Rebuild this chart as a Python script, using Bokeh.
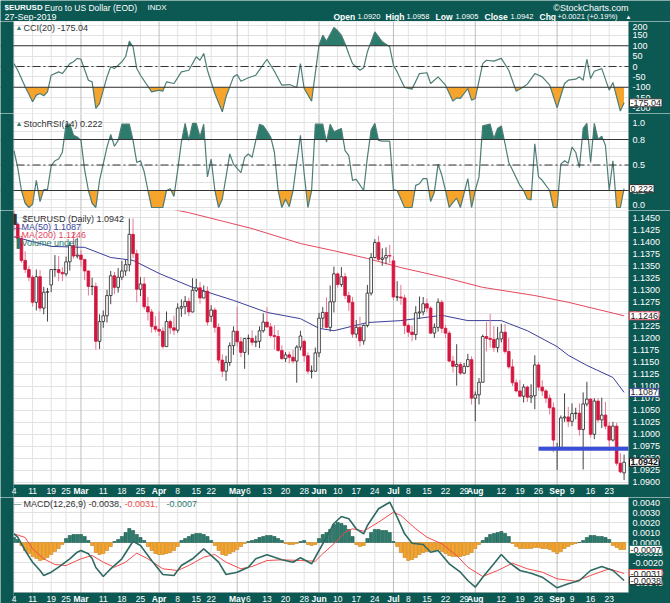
import numpy as np
import pandas as pd
from bokeh.plotting import figure
from bokeh.layouts import column
from bokeh.models import (Range1d, FixedTicker, Span, Label, LabelSet, BoxAnnotation,
                          ColumnDataSource)
from bokeh.core.properties import value
from bokeh.embed import file_html
from bokeh.resources import INLINE

# ---------------- data ----------------
holidays = ["2019-02-18", "2019-04-19", "2019-05-27", "2019-07-04", "2019-09-02"]
dates = [d for d in pd.bdate_range("2019-02-04", "2019-09-27") if d.strftime("%Y-%m-%d") not in holidays]

open_ = [1.1457, 1.1436, 1.1406, 1.1361, 1.1342,
         1.1326, 1.1274, 1.1327, 1.1262, 1.1295,
         1.1310, 1.1342, 1.1342, 1.1336,
         1.1333, 1.1358, 1.1392, 1.1370, 1.1372,
         1.1363, 1.1339, 1.1307, 1.1307, 1.1193,
         1.1234, 1.1246, 1.1288, 1.1329, 1.1305,
         1.1326, 1.1339, 1.1352, 1.1415, 1.1375,
         1.1301, 1.1312, 1.1265, 1.1254, 1.1224,
         1.1218, 1.1214, 1.1182, 1.1234, 1.1221,
         1.1216, 1.1262, 1.1265, 1.1276, 1.1254,
         1.1299, 1.1304, 1.1283, 1.1297,
         1.1245, 1.1258, 1.1222, 1.1154, 1.1131,
         1.1149, 1.1184, 1.1214, 1.1192, 1.1170,
         1.1199, 1.1199, 1.1191, 1.1193, 1.1215,
         1.1233, 1.1223, 1.1205, 1.1203, 1.1174,
         1.1157, 1.1165, 1.1160, 1.1152, 1.1181,
         1.1193, 1.1163, 1.1131, 1.1131,
         1.1169, 1.1241, 1.1253, 1.1222, 1.1275,
         1.1333, 1.1311, 1.1327, 1.1288, 1.1274,
         1.1208, 1.1222, 1.1194, 1.1226, 1.1293,
         1.1367, 1.1398, 1.1363, 1.1366, 1.1371,
         1.1360, 1.1285, 1.1285, 1.1283,
         1.1226, 1.1212, 1.1207, 1.1252, 1.1254,
         1.1271, 1.1262, 1.1210, 1.1222, 1.1274,
         1.1220, 1.1210, 1.1152, 1.1141, 1.1145,
         1.1127, 1.1141, 1.1155, 1.1075, 1.1082,
         1.1108, 1.1203, 1.1199, 1.1197, 1.1180,
         1.1198, 1.1212, 1.1172, 1.1140, 1.1107,
         1.1090, 1.1079, 1.1098, 1.1077, 1.1080,
         1.1144, 1.1098, 1.1090, 1.1075, 1.1055,
         1.0970, 1.0973, 1.1034, 1.1036,
         1.1027, 1.1043, 1.1044, 1.1010, 1.1063,
         1.1073, 1.1000, 1.1069, 1.1030, 1.1040,
         1.1017, 1.0988, 1.1017, 1.0940, 1.0920]
high = [1.1465, 1.1440, 1.1412, 1.1380, 1.1349,
        1.1330, 1.1342, 1.1341, 1.1306, 1.1304,
        1.1340, 1.1372, 1.1370, 1.1347,
        1.1369, 1.1400, 1.1420, 1.1408, 1.1382,
        1.1363, 1.1340, 1.1325, 1.1315, 1.1249,
        1.1257, 1.1300, 1.1339, 1.1337, 1.1345,
        1.1360, 1.1362, 1.1448, 1.1448, 1.1383,
        1.1326, 1.1326, 1.1285, 1.1260, 1.1245,
        1.1255, 1.1222, 1.1255, 1.1238, 1.1246,
        1.1272, 1.1280, 1.1287, 1.1284, 1.1324,
        1.1323, 1.1316, 1.1309, 1.1307,
        1.1268, 1.1263, 1.1230, 1.1166, 1.1163,
        1.1191, 1.1224, 1.1265, 1.1202, 1.1200,
        1.1207, 1.1216, 1.1205, 1.1224, 1.1251,
        1.1264, 1.1231, 1.1226, 1.1216, 1.1185,
        1.1171, 1.1172, 1.1175, 1.1185, 1.1215,
        1.1197, 1.1170, 1.1143, 1.1180,
        1.1252, 1.1264, 1.1284, 1.1309, 1.1348,
        1.1336, 1.1347, 1.1335, 1.1296, 1.1285,
        1.1237, 1.1244, 1.1228, 1.1310, 1.1376,
        1.1405, 1.1412, 1.1386, 1.1388, 1.1393,
        1.1370, 1.1318, 1.1310, 1.1290,
        1.1230, 1.1225, 1.1266, 1.1286, 1.1285,
        1.1282, 1.1266, 1.1230, 1.1282, 1.1279,
        1.1227, 1.1215, 1.1163, 1.1187, 1.1150,
        1.1148, 1.1167, 1.1162, 1.1089, 1.1117,
        1.1207, 1.1233, 1.1250, 1.1225, 1.1223,
        1.1229, 1.1229, 1.1200, 1.1156, 1.1114,
        1.1113, 1.1104, 1.1101, 1.1104, 1.1164,
        1.1150, 1.1112, 1.1094, 1.1083, 1.1066,
        1.0982, 1.1039, 1.1085, 1.1057,
        1.1064, 1.1055, 1.1064, 1.1087, 1.1109,
        1.1075, 1.1075, 1.1075, 1.1076, 1.1067,
        1.1025, 1.1026, 1.1024, 1.0961, 1.0958]
low = [1.1422, 1.1397, 1.1356, 1.1335, 1.1318,
       1.1265, 1.1257, 1.1255, 1.1249, 1.1234,
       1.1295, 1.1327, 1.1318, 1.1318,
       1.1328, 1.1340, 1.1365, 1.1365, 1.1348,
       1.1320, 1.1288, 1.1289, 1.1176, 1.1177,
       1.1221, 1.1232, 1.1270, 1.1291, 1.1294,
       1.1320, 1.1329, 1.1338, 1.1366, 1.1274,
       1.1287, 1.1259, 1.1236, 1.1211, 1.1212,
       1.1204, 1.1178, 1.1183, 1.1208, 1.1206,
       1.1211, 1.1244, 1.1249, 1.1245, 1.1253,
       1.1295, 1.1271, 1.1282, 1.1226,
       1.1233, 1.1211, 1.1147, 1.1119, 1.1111,
       1.1142, 1.1165, 1.1182, 1.1160, 1.1136,
       1.1165, 1.1184, 1.1181, 1.1179, 1.1211,
       1.1221, 1.1201, 1.1176, 1.1171, 1.1155,
       1.1150, 1.1147, 1.1147, 1.1107, 1.1174,
       1.1150, 1.1125, 1.1116, 1.1131,
       1.1160, 1.1221, 1.1220, 1.1213, 1.1253,
       1.1304, 1.1306, 1.1281, 1.1256, 1.1200,
       1.1200, 1.1182, 1.1186, 1.1222, 1.1288,
       1.1365, 1.1360, 1.1350, 1.1353, 1.1355,
       1.1279, 1.1277, 1.1269, 1.1208,
       1.1202, 1.1193, 1.1196, 1.1240, 1.1247,
       1.1253, 1.1208, 1.1200, 1.1213, 1.1210,
       1.1200, 1.1150, 1.1128, 1.1101, 1.1123,
       1.1125, 1.1139, 1.1062, 1.1027, 1.1062,
       1.1108, 1.1172, 1.1180, 1.1171, 1.1170,
       1.1191, 1.1167, 1.1136, 1.1100, 1.1087,
       1.1077, 1.1066, 1.1067, 1.1065, 1.1052,
       1.1090, 1.1080, 1.1065, 1.1041, 1.0963,
       1.0926, 1.0970, 1.1026, 1.1015,
       1.1017, 1.1031, 1.0997, 1.0927, 1.1058,
       1.0993, 1.0990, 1.1025, 1.1013, 1.1010,
       1.0966, 1.0985, 1.0935, 1.0919, 1.0905]
close = [1.1436, 1.1406, 1.1361, 1.1342, 1.1326,
         1.1274, 1.1327, 1.1262, 1.1295, 1.1296,
         1.1342, 1.1342, 1.1336, 1.1333,
         1.1358, 1.1392, 1.1370, 1.1372, 1.1363,
         1.1339, 1.1307, 1.1307, 1.1193, 1.1234,
         1.1246, 1.1288, 1.1329, 1.1305, 1.1326,
         1.1339, 1.1352, 1.1415, 1.1375, 1.1301,
         1.1312, 1.1265, 1.1254, 1.1224, 1.1218,
         1.1214, 1.1182, 1.1234, 1.1221, 1.1216,
         1.1262, 1.1265, 1.1276, 1.1254, 1.1299,
         1.1304, 1.1283, 1.1297, 1.1233,
         1.1258, 1.1222, 1.1154, 1.1131, 1.1149,
         1.1184, 1.1214, 1.1192, 1.1170, 1.1199,
         1.1199, 1.1191, 1.1193, 1.1215, 1.1233,
         1.1223, 1.1205, 1.1203, 1.1174, 1.1157,
         1.1165, 1.1160, 1.1152, 1.1181, 1.1204,
         1.1163, 1.1131, 1.1131, 1.1169,
         1.1241, 1.1253, 1.1222, 1.1275, 1.1333,
         1.1311, 1.1327, 1.1288, 1.1274, 1.1208,
         1.1222, 1.1194, 1.1226, 1.1293, 1.1367,
         1.1398, 1.1363, 1.1366, 1.1371, 1.1370,
         1.1285, 1.1285, 1.1283, 1.1226,
         1.1212, 1.1207, 1.1252, 1.1254, 1.1271,
         1.1262, 1.1210, 1.1222, 1.1274, 1.1220,
         1.1210, 1.1152, 1.1141, 1.1145, 1.1127,
         1.1141, 1.1155, 1.1075, 1.1082, 1.1108,
         1.1203, 1.1199, 1.1197, 1.1180, 1.1198,
         1.1212, 1.1172, 1.1140, 1.1107, 1.1090,
         1.1079, 1.1098, 1.1077, 1.1080, 1.1144,
         1.1098, 1.1090, 1.1075, 1.1055, 1.0988,
         1.0973, 1.1034, 1.1036, 1.1027,
         1.1043, 1.1044, 1.1010, 1.1063, 1.1073,
         1.1000, 1.1069, 1.1030, 1.1040, 1.1017,
         1.0988, 1.1017, 1.0940, 1.0922, 1.0942]

ma50_pts = [(0, 1.1410), (5, 1.1400), (10, 1.1390), (19, 1.1388), (26, 1.1367), (32, 1.1361),
            (39, 1.1334), (48, 1.1305), (59, 1.1278), (68, 1.1253), (77, 1.1240), (82, 1.1220),
            (86, 1.1215), (95, 1.1232), (104, 1.1236), (115, 1.1247), (122, 1.1236), (131, 1.1236),
            (138, 1.1215), (146, 1.1182), (149, 1.1164), (154, 1.1143), (161, 1.1118), (164, 1.1087)]
ma200_pts = [(0, 1.1545), (25, 1.1495), (47, 1.1460), (64, 1.1427), (77, 1.1396), (86, 1.1381),
             (95, 1.1365), (104, 1.1346), (116, 1.1325), (126, 1.1305), (140, 1.1288), (149, 1.1274),
             (164, 1.1246)]
support_level = 1.0970
support_from = "2019-08-26"

cci_pts = [(0, 14), (1, -18), (3, -98), (5, -170), (6, -138), (7, -130), (8, -141), (9, -122), (10, -42), (12, -26),
           (13, -34), (15, 14), (16, 23), (17, 39), (18, 35), (20, -66), (21, -74), (22, -202), (23, -178), (25, -50),
           (26, -1), (27, -10), (29, 23), (30, 47), (31, 122), (32, 95), (33, -10), (34, -42), (37, -122), (39, -114),
           (40, -119), (41, -74), (43, -82), (45, -26), (47, -18), (49, 47), (50, 30), (51, 63), (52, -18), (54, -130),
           (56, -218), (57, -146), (59, -50), (60, -39), (61, -71), (63, -54), (65, -42), (68, 35), (70, -23), (72, -90),
           (74, -87), (76, -101), (77, 14), (78, -106), (80, -167), (82, 103), (83, 151), (84, 122), (86, 188), (87, 172),
           (88, 151), (89, 110), (90, 60), (91, 14), (93, -18), (94, -6), (95, 71), (97, 167), (99, 119), (101, 95),
           (102, 6), (103, -26), (105, -101), (107, -109), (109, -34), (111, -30), (112, -82), (114, -50), (116, -90), (118, -167),
           (119, -151), (120, -154), (122, -106), (123, -162), (124, -154), (126, 14), (127, 30), (129, 26), (131, 39), (133, -18),
           (135, -119), (137, -98), (138, -85), (140, -34), (142, -50), (144, -90), (146, -199), (148, -82), (149, -66), (151, -61),
           (152, -50), (153, -66), (154, 35), (155, -58), (156, -23), (158, -10), (160, -114), (161, -77), (163, -215), (164, -175.04)]

stoch_pts = [(0, .67), (1, .47), (2, .20), (3, .05), (4, .00), (5, .04), (6, .32), (7, .07), (8, .21), (9, .21),
             (10, .49), (11, .55), (12, .57), (13, .65), (14, .98), (15, .98), (16, .85), (17, .83), (18, .79), (19, .44),
             (20, .20), (21, .05), (22, .00), (23, .32), (25, .71), (26, .86), (27, .72), (28, .79), (29, .98), (31, .98),
             (32, .79), (33, .53), (34, .55), (35, .42), (36, .20), (37, .00), (40, .00), (41, .20), (42, .22), (43, .13),
             (44, .44), (45, .77), (46, .99), (47, .79), (48, .99), (49, .99), (50, .83), (51, .98), (52, .36), (53, .57),
             (54, .20), (55, .00), (56, .10), (57, .36), (58, .63), (59, .51), (61, .41), (62, .59), (63, .63), (64, .59),
             (65, .79), (66, .98), (67, .96), (68, .90), (69, .83), (70, .65), (71, .20), (72, .00), (73, .10), (74, .01),
             (75, .20), (77, .85), (78, .40), (79, .00), (80, .20), (81, .98), (83, .98), (84, .77), (85, .98), (86, .89),
             (88, .93), (89, .67), (90, .61), (91, .32), (92, .33), (94, .20), (95, .59), (96, .91), (97, .99), (98, .79),
             (99, .78), (100, .78), (101, .78), (102, .21), (103, .20), (105, .00), (107, .00), (108, .26), (109, .28), (110, .34),
             (111, .34), (112, .07), (113, .18), (114, .51), (115, .38), (116, .20), (117, .00), (118, .06), (119, .11), (120, .00),
             (122, .34), (123, .00), (124, .20), (125, .36), (126, .96), (128, .98), (129, .81), (130, .93), (131, .96), (132, .75),
             (133, .53), (134, .44), (136, .26), (137, .20), (138, .10), (139, .09), (140, .75), (141, .36), (142, .32), (144, .20),
             (145, .00), (146, .00), (147, .51), (148, .55), (149, .52), (150, .71), (151, .65), (152, .47), (153, .93), (154, .99),
             (155, .53), (156, .99), (157, .80), (158, .84), (159, .73), (160, .20), (161, .55), (162, .00), (163, .00), (164, .222)]

macd_pts = [(0, .00087), (1, .00053), (3, -.0008), (5, -.00197), (7, -.0028), (8, -.0033), (10, -.00297), (12, -.00247),
            (15, -.00163), (17, -.00097), (18, -.0008), (20, -.00113), (21, -.0016), (22, -.0025), (24, -.0034), (26, -.00263),
            (29, -.00163), (32, .00013), (34, -.0003), (37, -.0018), (40, -.0032), (43, -.0033), (45, -.0023), (48, -.00163),
            (51, -.00063), (52, -.00097), (55, -.00197), (57, -.0032), (60, -.00297), (63, -.00247), (65, -.00163), (68, -.00123),
            (70, -.00147), (72, -.00173), (75, -.00197), (77, -.00153), (80, -.00213), (82, -.0008), (84, .00053), (86, .0019),
            (88, .0026), (90, .00237), (92, .00137), (94, .00087), (95, .0017), (98, .00337), (101, .00403), (103, .00253),
            (105, .00087), (107, -.00007), (110, -.0002), (112, -.00097), (114, -.0008), (117, -.00213), (120, -.00297), (122, -.0038),
            (124, -.00447), (126, -.00347), (129, -.00213), (131, -.0012), (133, -.00197), (136, -.0028), (139, -.00307), (142, -.00347),
            (146, -.00453), (149, -.00413), (152, -.0038), (155, -.0028), (158, -.0024), (161, -.0028), (164, -.0038)]
signal_pts = [(0, .00087), (3, .0005), (5, -.00063), (8, -.00163), (11, -.0022), (14, -.0023), (18, -.00163), (21, -.0013),
              (24, -.00197), (27, -.00247), (30, -.00197), (33, -.00107), (36, -.00163), (40, -.00263), (44, -.0028), (47, -.0023),
              (51, -.00147), (54, -.0012), (57, -.00197), (61, -.00263), (64, -.0024), (68, -.0018), (72, -.00173), (77, -.0018),
              (81, -.00187), (83, -.00113), (86, -.00013), (89, .00103), (91, .00137), (94, .00113), (98, .00203), (102, .00303),
              (104, .0027), (108, .00137), (111, .00053), (115, -.00013), (119, -.0013), (122, -.00247), (126, -.0034), (130, -.0028),
              (134, -.00207), (138, -.00263), (142, -.00297), (146, -.00363), (151, -.00387), (155, -.0033), (160, -.00263), (164, -.0031)]
hist = [.0005, .0003, -.0003, -.0008, -.0011, -.0014, -.0016, -.0018, -.0017, -.0015,
        -.0012, -.0009, -.0006, -.0002, .0004, .0007, .0008, .0008, .0008, .0006,
        .0002, -.0003, -.0010, -.0012, -.0011, -.0008, -.0004, .0001, .0003, .0006,
        .0010, .0014, .0012, .0008, .0005, .0002, -.0004, -.0008, -.0011, -.0012,
        -.0012, -.0011, -.0010, -.0008, -.0004, .0002, .0004, .0006, .0008, .0009,
        .0009, .0008, .0006, .0002, -.0003, -.0008, -.0012, -.0013, -.0011, -.0009,
        -.0007, -.0004, -.0001, .0001, .0002, .0003, .0005, .0006, .0007, .0007,
        .0006, .0004, .0002, -.0001, -.0002, -.0002, -.0001, .0001, .0002, -.0002,
        -.0003, -.0002, .0004, .0008, .0010, .0013, .0018, .0020, .0019, .0017,
        .0013, .0006, -.0002, -.0004, -.0003, .0004, .0010, .0013, .0013, .0012,
        .0012, .0010, .0001, -.0004, -.0010, -.0015, -.0018, -.0017, -.0015, -.0012,
        -.0010, -.0009, -.0008, -.0008, -.0007, -.0009, -.0011, -.0013, -.0014, -.0014,
        -.0014, -.0013, -.0012, -.0010, -.0006, -.0002, .0002, .0005, .0008, .0009,
        .0010, .0011, .0009, .0006, -.0001, -.0004, -.0006, -.0006, -.0006, -.0006,
        -.0005, -.0005, -.0006, -.0006, -.0007, -.0009, -.0011, -.0009, -.0006, -.0004,
        -.0002, -.0001, .0000, .0002, .0005, .0007, .0007, .0006, .0006, .0005,
        .0003, -.0003, -.0005, -.0007, -.0007]

tick_dates = ["2019-02-04", "2019-02-11", "2019-02-19", "2019-02-25", "2019-03-01", "2019-03-11", "2019-03-18",
              "2019-03-25", "2019-04-01", "2019-04-08", "2019-04-15", "2019-04-22", "2019-05-01", "2019-05-06",
              "2019-05-13", "2019-05-20", "2019-05-28", "2019-06-03", "2019-06-10", "2019-06-17", "2019-06-24",
              "2019-07-01", "2019-07-08", "2019-07-15", "2019-07-22", "2019-07-29", "2019-08-01", "2019-08-12",
              "2019-08-19", "2019-08-26", "2019-09-03", "2019-09-09", "2019-09-16", "2019-09-23"]
tick_text = ["4", "11", "19", "25", "Mar", "11", "18", "25", "Apr", "8", "15", "22", "May", "6", "13", "20", "28",
             "Jun", "10", "17", "24", "Jul", "8", "15", "22", "29", "Aug", "12", "19", "26", "Sep", "9", "16", "23"]
MONTHS = {"Mar", "Apr", "May", "Jun", "Jul", "Aug", "Sep"}

cci_ticks = [200, 150, 100, 50, 0, -50, -100, -150, -200]
stoch_ticks = [1.0, 0.8, 0.5, 0.2, 0.0]
price_ticks = [1.1450, 1.1425, 1.1400, 1.1375, 1.1350, 1.1325, 1.1300, 1.1275, 1.1250, 1.1225, 1.1200, 1.1175,
               1.1150, 1.1125, 1.1100, 1.1075, 1.1050, 1.1025, 1.1000, 1.0975, 1.0950, 1.0925, 1.0900]
macd_ticks = [0.0040, 0.0030, 0.0020, 0.0010, 0.0000, -0.0010, -0.0020, -0.0030, -0.0040]

# ---------------- geometry / style ----------------
TEAL = "#0c5954"
FONT = "Liberation Sans"
FS = "9px"
W = 670
PX_PER_BAR = 3.72
XL = -13.5 / PX_PER_BAR           # canvas left edge
XR = (W - 13.5) / PX_PER_BAR      # canvas right edge
X0 = (13 - 13.5) / PX_PER_BAR     # plot area left
XP = (628 - 13.5) / PX_PER_BAR    # plot area right
N = len(dates)
idx = np.arange(N)
date_index = {d.strftime("%Y-%m-%d"): k for k, d in enumerate(dates)}
tick_idx = [date_index[d] for d in tick_dates]

GREEN = "#2c7b6c"
ORANGE = "#f6a42b"
DARK = "#333333"
GRID = "#e2e2e2"


class Panel:
    def __init__(self, height, y_top, per_px, plot_h, grid_ticks):
        self.height = height
        self.y_top = y_top
        self.per_px = per_px
        self.plot_h = plot_h
        self.y_plot_bot = y_top - plot_h * per_px
        y_min = y_top - height * per_px
        p = figure(width=W, height=height, x_range=Range1d(XL, XR), y_range=Range1d(y_min, y_top),
                   output_backend="svg", toolbar_location=None, tools="",
                   x_axis_location=None, y_axis_location=None, min_border=0)
        p.border_fill_color = TEAL
        p.background_fill_color = "white"
        p.outline_line_color = None
        p.xgrid.visible = False
        p.ygrid.ticker = FixedTicker(ticks=grid_ticks)
        p.ygrid.grid_line_color = GRID
        for k, t in zip(tick_idx, tick_text):
            p.add_layout(Span(location=k, dimension="height",
                              line_color=("#bdbdbd" if t in MONTHS else GRID),
                              line_width=1, level="underlay"))
        self.p = p

    def y_at(self, px):
        return self.y_top - px * self.per_px

    def frame_boxes(self):
        p = self.p
        span = 10 * (self.y_top - self.y_plot_bot) + 1
        big_lo, big_hi = self.y_top - span, self.y_top + span
        p.add_layout(BoxAnnotation(left=X0, right=XR + 50, bottom=big_lo, top=self.y_plot_bot,
                                   fill_color=TEAL, fill_alpha=1, line_alpha=0))
        p.add_layout(BoxAnnotation(left=XP, right=XR + 50, bottom=big_lo, top=big_hi,
                                   fill_color=TEAL, fill_alpha=1, line_alpha=0))
        p.add_layout(BoxAnnotation(left=XL - 50, right=X0, bottom=big_lo, top=big_hi,
                                   fill_color=TEAL, fill_alpha=1, line_alpha=0))
        p.add_layout(BoxAnnotation(left=X0, right=XP, bottom=self.y_plot_bot, top=self.y_top,
                                   fill_alpha=0, line_color="#8f8f8f", line_width=1))

    def right_labels(self, vals, texts, nudge=None):
        # nudge: optional per-label pixel shift (positive = up) so edge labels stay inside the canvas
        ys = list(vals)
        offs = [0.0] * len(ys) if nudge is None else list(nudge)
        src = ColumnDataSource(dict(x=[XP] * len(ys), y=[y + d * self.per_px for y, d in zip(ys, offs)],
                                    t=list(texts)))
        self.p.add_layout(LabelSet(x="x", y="y", text="t", source=src, x_offset=4,
                                   text_align="left", text_baseline="middle", text_color="white",
                                   text_font=value(FONT), text_font_size=FS))

    def bottom_labels(self, center_px):
        y = self.y_at(center_px)
        days = [(k, t) for k, t in zip(tick_idx, tick_text) if t not in MONTHS]
        mons = [(k, t) for k, t in zip(tick_idx, tick_text) if t in MONTHS]
        for items, style in ((days, "normal"), (mons, "bold")):
            src = ColumnDataSource(dict(x=[k for k, _ in items], y=[y] * len(items), t=[t for _, t in items]))
            self.p.add_layout(LabelSet(x="x", y="y", text="t", source=src, text_align="center",
                                       text_baseline="middle", text_color="white", text_font=value(FONT),
                                       text_font_size="8.5px", text_font_style=style))

    def legend(self, x_screen, y_px, text, color=DARK, size=FS, bold=False):
        x = (x_screen - 13.5) / PX_PER_BAR
        self.p.add_layout(Label(x=x, y=self.y_at(y_px), text=text, text_color=color, text_font=FONT,
                                text_font_size=size, text_font_style=("bold" if bold else "normal"),
                                text_align="left", text_baseline="middle"))

    def tag(self, yv, text, border, color="#222222", bold=False):
        self.p.add_layout(Label(x=XP, y=yv, x_offset=1, text=text, text_align="left", text_baseline="middle",
                                text_font=FONT, text_font_size=FS, text_color=color,
                                text_font_style=("bold" if bold else "normal"),
                                background_fill_color="white", border_line_color=border, border_line_width=1,
                                padding=1))


def band_fill(xs, ys, level, above):
    xs = [float(v) for v in xs]
    ys = [float(v) for v in ys]
    X, Y = [xs[0]], [ys[0]]
    for k in range(1, len(xs)):
        a, b = ys[k - 1], ys[k]
        if (a - level) * (b - level) < 0:
            t = (level - a) / (b - a)
            X.append(xs[k - 1] + t * (xs[k] - xs[k - 1]))
            Y.append(level)
        X.append(xs[k])
        Y.append(b)
    Y = np.array(Y)
    Yc = np.maximum(Y, level) if above else np.minimum(Y, level)
    return np.array(X), Yc


def osc_fill(p, xs, ys, hi, lo):
    X, Yc = band_fill(xs, ys, hi, True)
    p.varea(x=X, y1=np.full(len(X), float(hi)), y2=Yc, fill_color=GREEN)
    X, Yc = band_fill(xs, ys, lo, False)
    p.varea(x=X, y1=np.full(len(X), float(lo)), y2=Yc, fill_color=ORANGE)


# ---------------- header ----------------
HDR_H = 21
hdr = figure(width=W, height=HDR_H, x_range=Range1d(0, W), y_range=Range1d(0, HDR_H),
             output_backend="svg", toolbar_location=None, tools="",
             x_axis_location=None, y_axis_location=None, min_border=0)
hdr.border_fill_color = TEAL
hdr.background_fill_color = TEAL
hdr.outline_line_color = None
hdr.xgrid.visible = False
hdr.ygrid.visible = False


def hl(x, y_from_top, text, size=FS, bold=False, align="left"):
    hdr.add_layout(Label(x=x, y=HDR_H - y_from_top, text=text, text_color="white", text_font=FONT,
                         text_font_size=size, text_font_style=("bold" if bold else "normal"),
                         text_align=align, text_baseline="middle"))


hl(4, 7, "$EURUSD", size="8px", bold=True)
hl(44, 7, "Euro to US Dollar (EOD)", size="8.5px")
hl(147, 7, "INDX", size="8px")
hl(628, 7, "\u00a9StockCharts.com", size="9px", align="right")
hl(4, 16, "27-Sep-2019", size="9px")
row = [(333, "Open", True), (357, "1.0920", False), (385, "High", True), (406, "1.0958", False),
       (435, "Low", True), (455, "1.0905", False), (484, "Close", True), (510, "1.0942", False),
       (539, "Chg", True), (557, "+0.0021 (+0.19%)", False)]
for x, t, b in row:
    hl(x, 16, t, size=("8.5px" if b else "7.5px"), bold=b)
hl(625, 16, "\u25b2", size="6px")

# ---------------- CCI (screen 21..113) ----------------
cci = Panel(92, (66 - 21) / 0.2075, 1 / 0.2075, 92, cci_ticks)
cx, cv = zip(*cci_pts)
osc_fill(cci.p, cx, cv, 100, -100)
cci.p.line(list(cx), list(cv), line_color="#4e7d77", line_width=1.2)
cci.p.add_layout(Span(location=100, dimension="width", line_color=DARK, line_width=1))
cci.p.add_layout(Span(location=-100, dimension="width", line_color=DARK, line_width=1))
cci.p.add_layout(Span(location=0, dimension="width", line_color=DARK, line_width=1, line_dash="8 3 2 3"))
cci.frame_boxes()
cci.right_labels(cci_ticks, [str(v) for v in cci_ticks], nudge=[-1.5, 0, 0, 0, 0, 0, 0, 0, 0])
cci.legend(15, 6, "\u25b2", color=GREEN, size="7px")
cci.legend(23, 6, "CCI(20) -175.04")
cci.tag(cv[-1], "-175.04", DARK)

# ---------------- StochRSI (screen 113..210) ----------------
stoch = Panel(97, (207 - 113) / 85.0, 1 / 85.0, 97, [round(0.1 * k, 1) for k in range(11)])
sx, sv = zip(*stoch_pts)
osc_fill(stoch.p, sx, sv, 0.8, 0.2)
stoch.p.line(list(sx), list(sv), line_color="#4e7d77", line_width=1.2)
stoch.p.add_layout(Span(location=0.8, dimension="width", line_color=DARK, line_width=1))
stoch.p.add_layout(Span(location=0.2, dimension="width", line_color=DARK, line_width=1))
stoch.p.add_layout(Span(location=0.5, dimension="width", line_color=DARK, line_width=1, line_dash="8 3 2 3"))
stoch.frame_boxes()
stoch.right_labels(stoch_ticks, ["%.1f" % v for v in stoch_ticks], nudge=[0, 0, 0, 0, 2.5])
stoch.legend(15, 10, "\u25b2", color=GREEN, size="7px")
stoch.legend(23, 10, "StochRSI(14) 0.222")
stoch.tag(sv[-1], "0.222", DARK)

# ---------------- price (screen 210..497) ----------------
main = Panel(287, 1.1450 + 7 / 4818.0, 1 / 4818.0, 274, price_ticks)
p = main.p
o = np.array(open_)
c = np.array(close)
hi = np.array(high)
lo = np.array(low)
up = c >= o
body_top = np.maximum(o, c)
body_bot = np.minimum(o, c)
wick_hi = np.maximum(hi, body_top)
wick_lo = np.minimum(lo, body_bot)
RED = "#d3163f"
p.line([k for k, _ in ma200_pts], [v for _, v in ma200_pts], line_color="#e5485f", line_width=1)
p.line([k for k, _ in ma50_pts], [v for _, v in ma50_pts], line_color="#3b3f99", line_width=1)
p.segment(x0=idx, y0=wick_lo, x1=idx, y1=wick_hi,
          line_color=["#444444" if u else "#e57890" for u in up], line_width=1)
p.vbar(x=idx, width=0.72, top=body_top, bottom=body_bot,
       fill_color=["white" if u else RED for u in up],
       line_color=["#222222" if u else RED for u in up], line_width=0.8)
s0 = date_index[support_from]
p.line([s0, XP], [support_level, support_level], line_color="#3a4ed6", line_width=4)
main.frame_boxes()
main.right_labels(price_ticks, ["%.4f" % v for v in price_ticks])
main.bottom_labels(274 + 6.5)
main.legend(13, 8.7, "\u258c", color=DARK)
main.legend(22, 8.7, "$EURUSD (Daily) 1.0942")
main.legend(13, 16.5, "\u2014", color="#3b3f99", size="8px")
main.legend(21, 16.5, "MA(50) 1.1087", color="#3b3f99")
main.legend(13, 24.5, "\u2014", color="#e5485f", size="8px")
main.legend(21, 24.5, "MA(200) 1.1246", color="#e5485f")
main.legend(13, 32, "\u2590", color="#2a7a6d")
main.legend(21, 32, "Volume undef", color="#2a7a6d")
main.tag(ma200_pts[-1][1], "1.1246", "#e5485f")
main.tag(ma50_pts[-1][1], "1.1087", "#3b3f99")
main.tag(close[-1], "1.0942", "#111111", color="#111111", bold=True)

# ---------------- MACD (screen 497..603) ----------------
macd = Panel(106, 0.0045, 0.0001, 95, macd_ticks)
q = macd.p
hv = np.array(hist)
q.vbar(x=idx, width=0.85, top=hv, bottom=0,
       fill_color=[GREEN if v >= 0 else ORANGE for v in hv],
       line_color=["#1d5a4f" if v >= 0 else "#c7821a" for v in hv], line_width=0.6)
mx, mv = zip(*macd_pts)
gx, gv = zip(*signal_pts)
q.line(list(gx), list(gv), line_color="#f54b4b", line_width=1)
q.line(list(mx), list(mv), line_color="#2e6a62", line_width=1.6)
macd.frame_boxes()
macd.right_labels(macd_ticks, ["%.4f" % v for v in macd_ticks])
macd.bottom_labels(95 + 6)
macd.legend(13, 6, "\u2014", color="#2e6a62", size="8px")
macd.legend(23, 6, "MACD(12,26,9) -0.0038,")
macd.legend(124, 6, "-0.0031,", color="#f54b4b")
macd.legend(166, 6, "-0.0007", color="#2a7a6d")
macd.tag(hist[-1], "-0.0007", "#2a7a6d")
macd.tag(gv[-1], "-0.0031", "#f54b4b")
macd.tag(mv[-1], "-0.0038", DARK)

layout = column(hdr, cci.p, stoch.p, main.p, macd.p)
open("out.html", "w").write(file_html(layout, INLINE))
